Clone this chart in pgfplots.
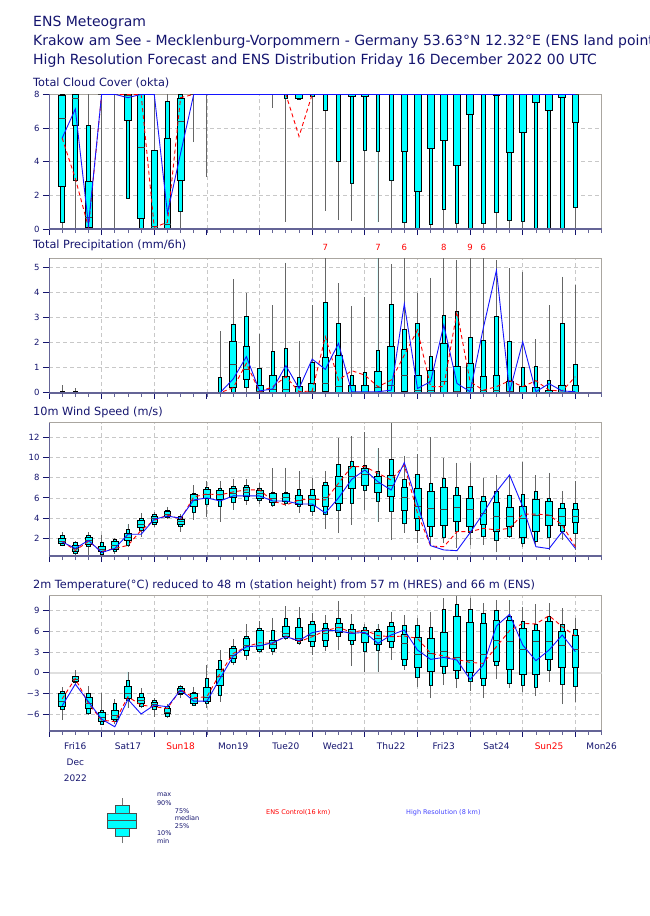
\documentclass[border=0pt]{standalone}
\usepackage{pgfplots}
\pgfplotsset{compat=1.18}
\usepackage{pgfplotstable}
\usepgfplotslibrary{statistics}
\usepackage{fontspec}
\setmainfont{DejaVu Sans}

\definecolor{navytext}{RGB}{20,20,110}
\definecolor{axisblue}{RGB}{100,100,150}
\definecolor{framegray}{RGB}{170,166,160}
\definecolor{gridgray}{RGB}{200,200,200}
\definecolor{enscyan}{RGB}{0,255,255}
\definecolor{ctrlred}{RGB}{255,0,0}
\definecolor{hresblue}{RGB}{20,20,255}

% columns: step (h), min, 10%, 25%, median, 75%, 90%, max, ENS control, HRES
\pgfplotstableread{
x mn pa pb md pf pg mx ct hr
6 0 0.4 2.55 6.57 7.92 8 8 5.4 5.4
12 0 2.87 6.18 7.74 8 8 8 3.0 7.13
18 0 0.05 0.08 0.67 2.81 6.14 8 0.1 0.24
24 0 8 8 8 8 8 8 8 8
30 0 8 8 8 8 8 8 8 8
36 1.8 1.82 6.44 7.95 8 8 8 8 7.8
42 0 0 0.63 4.83 8 8 8 8 8
48 0 0 0.02 0.15 4.65 4.7 8 0.1 8
54 0 0 0.05 0.3 5.39 7.6 8 0.4 0.93
60 0 1.03 2.87 6.4 7.76 8 8 7.8 4.5
66 5.15 8 8 8 8 8 8 8 8
72 3.1 8 8 8 8 8 8 8 8
78 8 8 8 8 8 8 8 8 8
84 8 8 8 8 8 8 8 8 8
90 8 8 8 8 8 8 8 8 8
96 8 8 8 8 8 8 8 8 8
102 7.2 8 8 8 8 8 8 8 8
108 0.44 7.75 8 8 8 8 8 8 8
114 7.7 7.7 7.75 8 8 8 8 5.5 8
120 0 7.85 8 8 8 8 8 8 8
126 1.09 7.07 8 8 8 8 8 8 8
132 0.53 4.04 8 8 8 8 8 8 8
138 0.48 2.71 7.9 8 8 8 8 8 8
144 0 4.69 7.88 8 8 8 8 8 8
150 0.4 4.6 8 8 8 8 8 8 8
156 0 2.87 8 8 8 8 8 8 8
162 0 0.38 4.63 8 8 8 8 8 8
168 0 0 2.26 8 8 8 8 8 8
174 0 0.3 4.79 8 8 8 8 8 8
180 0 1.19 5.25 8 8 8 8 8 8
186 0 0.34 3.78 8 8 8 8 8 8
192 0 0 6.81 8 8 8 8 8 8
198 0 0.34 7.98 8 8 8 8 8 8
204 0 1.0 7.95 8 8 8 8 8 8
210 0 0.5 4.57 8 8 8 8 8 8
216 0 0.44 5.74 8 8 8 8 8 8
222 0 0 7.52 8 8 8 8 8 8
228 0 0 7.03 8 8 8 8 8 8
234 0 0 7.82 8 8 8 8 8 8
240 0 1.27 6.34 8 8 8 8 8 8
}\cloud

\pgfplotstableread{
x mn pa pb md pf pg mx ct hr
6 0 0 0 0 0.02 0.05 0.3 0 0
12 0 0 0 0 0.02 0.05 0.17 0 0
18 0 0 0 0 0 0 0 0 0
24 0 0 0 0 0 0 0 0 0
30 0 0 0 0 0 0 0 0 0
36 0 0 0 0 0 0 0 0 0
42 0 0 0 0 0 0 0 0 0
48 0 0 0 0 0 0 0 0 0
54 0 0 0 0 0 0 0 0 0
60 0 0 0 0 0 0 0 0 0
66 0 0 0 0 0 0 0 0 0
72 0 0 0 0 0 0 0 0 0
78 0 0 0 0 0.02 0.61 2.46 0 0
84 0 0.02 0.2 1.14 2.03 2.73 4.52 0.2 0.55
90 0 0.2 0.55 0.95 1.86 3.06 3.96 1.17 1.44
96 0 0 0 0.05 0.28 0.97 2.35 0.04 0.07
102 0 0 0 0.15 0.69 1.65 3.48 0.24 0.15
108 0 0 0 0.15 0.64 1.77 5.19 0.64 1.08
114 0 0 0 0.03 0.24 0.6 2.06 0.04 0.17
120 0 0 0 0.05 0.37 1.2 3.5 0.07 1.34
126 0 0 0.05 0.39 1.4 3.6 7 2.23 0.93
132 0 0 0.03 0.27 1.5 2.77 4.36 0.5 1.97
138 0 0 0 0.02 0.28 0.7 3.46 0.88 0.04
144 0 0 0 0.02 0.28 0.81 3.82 0.7 0.04
150 0 0 0.02 0.2 0.86 1.69 7 0.24 0.04
156 0 0 0.03 0.3 1.86 3.52 5.12 0.5 0.1
162 0 0.02 0.05 0.68 1.73 2.53 6 1.5 3.54
168 0 0 0 0.1 0.68 2.77 3.96 2.5 0.17
174 0 0 0 0.1 0.89 1.46 4.59 0.24 0.44
180 0 0 0.03 0.44 1.95 3.1 8 0.24 2.7
186 0 0 0 0.05 1.04 3.26 5.3 3.23 0.37
192 0 0 0 0.2 1.17 2.19 9 0.44 0.04
198 0 0 0 0.1 0.66 2.09 6 0.1 2.57
204 0 0 0.02 0.1 0.69 3.06 5.29 0.24 4.88
210 0 0 0 0.05 0.44 2.03 4.96 0.48 0.04
216 0 0 0 0.03 0.24 1.0 4.8 0.24 2.03
222 0 0 0 0.03 0.2 1.04 2.13 0.48 0.04
228 0 0 0 0.02 0.1 0.49 3.48 0.1 0.36
234 0 0 0 0.03 0.28 2.77 4.63 0.07 0.07
240 0 0 0 0.03 0.28 1.13 4.3 0.64 0.04
}\precip

\pgfplotstableread{
x mn pa pb md pf pg mx ct hr
6 1.2 1.35 1.5 1.75 2.0 2.3 2.6 1.7 1.65
12 0.35 0.5 0.68 1.0 1.34 1.57 1.74 0.8 1.0
18 0.18 1.17 1.44 1.83 2.1 2.33 2.6 1.7 1.8
24 0.25 0.45 0.68 0.95 1.24 1.57 2.33 0.7 0.6
30 0.45 0.68 0.94 1.34 1.67 1.9 2.0 1.0 1.0
36 1.17 1.3 1.77 2.1 2.5 2.9 3.39 1.3 2.4
42 2.16 2.76 3.09 3.42 3.75 3.98 4.48 2.8 2.4
48 3.16 3.42 3.55 3.98 4.2 4.4 4.64 3.8 3.9
54 3.91 4.08 4.2 4.4 4.64 4.8 5.13 4.3 4.2
60 2.66 3.22 3.42 3.72 3.91 4.15 4.4 3.9 4.0
66 3.82 4.57 5.2 5.8 6.36 6.5 7.28 6.1 5.8
72 4.15 5.4 5.96 6.36 6.88 7.05 7.68 6.4 6.0
78 3.65 5.2 5.86 6.36 6.8 6.95 7.68 6.3 5.7
84 4.8 5.53 6.06 6.5 6.95 7.1 7.84 6.6 6.2
90 5.3 5.8 6.13 6.6 7.05 7.2 7.84 6.8 6.2
96 5.4 5.73 6.0 6.46 6.8 6.95 7.5 6.8 6.2
102 5.13 5.3 5.53 5.96 6.46 6.6 8.93 5.7 5.7
108 5.2 5.47 5.7 6.06 6.46 6.6 9.0 5.3 5.7
114 4.48 5.2 5.37 5.8 6.3 6.85 8.67 5.8 5.4
120 4.2 4.64 5.3 5.86 6.3 6.85 7.94 5.9 5.4
126 2.9 4.4 5.2 6.06 7.28 7.5 8.67 5.8 4.5
132 2.5 4.8 5.47 7.2 8.17 9.33 11.9 7.45 6.0
138 3.3 5.47 6.95 8.1 9.16 9.6 12.1 9.1 7.84
144 4.8 6.72 7.28 8.37 8.93 9.26 12.5 9.1 8.77
150 3.65 5.63 6.52 7.45 8.17 8.6 10.9 8.44 7.6
156 1.83 4.7 6.13 7.28 8.27 9.82 13.45 7.78 6.78
162 2.56 3.49 4.8 6.06 7.02 7.84 10.2 9.26 9.5
168 1.57 2.83 3.98 5.13 6.95 8.34 10.4 4.5 5.4
174 1.24 2.16 3.16 4.97 6.62 7.45 12.0 1.24 1.27
180 1.5 2.1 3.32 4.87 7.02 7.94 9.92 1.17 0.85
186 1.08 2.66 3.65 5.07 6.22 7.05 9.49 2.66 0.78
192 1.34 2.56 3.22 4.87 5.96 7.1 9.49 2.66 2.56
198 1.34 2.16 3.39 4.48 5.63 6.19 7.94 2.99 4.48
204 0.61 1.83 2.73 4.2 5.56 6.62 8.27 2.83 6.62
210 2.0 2.23 3.22 4.2 5.07 6.29 8.17 2.99 8.27
216 1.17 1.5 2.07 3.98 5.13 6.36 9.52 4.4 5.13
222 1.34 1.74 2.73 4.31 5.89 6.62 8.27 4.4 1.17
228 0.85 2.07 3.32 4.31 5.63 5.96 8.5 4.31 0.98
234 1.83 2.66 3.25 4.15 4.97 5.47 6.69 3.32 2.66
240 0.85 2.5 3.58 4.2 4.87 5.47 7.68 1.17 1.0
}\wind

\pgfplotstableread{
x mn pa pb md pf pg mx ct hr
6 -6.9 -5.34 -4.95 -4.08 -3.0 -2.77 -2.14 -3.8 -4.8
12 -1.8 -1.41 -1.31 -0.92 -0.58 -0.49 0.39 -0.83 -1.65
18 -6.17 -5.92 -5.19 -4.37 -3.64 -3.0 -1.9 -4.47 -4.22
24 -7.62 -7.48 -7.14 -6.41 -5.83 -5.53 -3.0 -6.9 -6.75
30 -7.48 -7.14 -6.8 -6.17 -5.44 -4.47 -3.88 -7.1 -7.86
36 -5.19 -4.08 -3.74 -3.0 -2.04 -1.17 0.15 -3.5 -3.88
42 -5.19 -4.85 -4.47 -3.98 -3.64 -3.0 -2.28 -4.7 -6.0
48 -6.4 -5.34 -4.95 -4.56 -4.32 -3.98 -3.74 -4.95 -4.7
54 -6.65 -6.4 -5.92 -5.68 -5.19 -4.95 -4.56 -5.19 -4.95
60 -3.74 -3.16 -3.0 -2.62 -2.28 -2.04 -1.8 -2.43 -2.52
66 -4.85 -4.7 -4.47 -3.64 -3.0 -2.91 -2.04 -3.64 -4.13
72 -5.19 -4.47 -4.22 -3.5 -2.14 -0.83 1.12 -3.5 -4.13
78 -4.22 -3.25 -1.8 -0.58 0.49 1.84 3.3 -0.1 -0.83
84 1.12 1.46 2.09 2.57 3.54 3.79 4.85 2.8 2.43
90 1.84 2.57 3.3 4.03 5.0 5.34 7.04 3.79 3.79
96 2.8 3.06 3.4 4.03 6.21 6.46 7.52 4.37 3.9
102 2.57 3.16 3.54 4.17 4.76 6.12 8.0 4.27 4.37
108 4.76 5.0 5.24 5.73 6.8 7.91 9.7 5.34 5.24
114 4.03 4.27 4.76 5.0 6.6 7.91 9.5 4.51 4.66
120 2.57 3.9 4.51 5.49 7.04 7.43 8.74 5.24 5.83
126 3.16 3.9 4.76 5.73 6.46 7.18 8.4 6.12 6.21
132 3.3 5.34 5.87 6.6 7.18 7.91 10.5 6.6 6.07
138 0.97 4.17 4.76 5.73 6.36 7.04 8.54 5.87 5.73
144 0.15 3.16 4.42 5.73 6.21 6.6 7.04 6.21 5.87
150 0.15 3.3 4.17 5.0 6.07 6.31 7.09 5.39 4.27
156 1.84 3.69 4.51 5.97 6.7 7.28 8.88 5.24 5.49
162 0.39 1.12 1.94 4.27 5.63 6.94 8.4 5.34 6.21
168 -2.14 -0.68 0.73 2.67 5.1 6.84 7.91 5.0 3.3
174 -3.74 -1.8 0.15 2.82 5.0 6.6 8.88 2.82 1.94
180 -1.8 -0.1 0.97 3.16 5.87 9.22 10.8 2.43 2.23
186 -2.28 -0.83 0.39 2.23 8.16 9.95 11.2 1.94 1.84
192 -2.62 -1.31 0.05 1.84 7.33 9.22 10.8 1.5 -0.97
198 -3.74 -1.8 -0.83 2.67 7.18 8.64 10.1 1.36 1.12
204 -0.97 1.02 1.6 4.66 7.67 9.13 10.6 3.79 6.8
210 -2.28 -1.55 0.53 4.51 7.67 8.25 10.6 6.12 8.5
216 -2.86 -1.8 -0.19 3.45 6.46 7.43 9.6 7.18 4.03
222 -3.4 -2.14 -0.19 4.61 6.21 7.09 9.95 7.09 1.75
228 -1.31 0.29 1.94 4.61 7.43 8.16 10.1 8.3 3.3
234 -4.61 -1.65 0.73 4.03 5.97 7.09 9.37 6.7 5.49
240 -4.22 -2.04 0.78 3.4 5.39 6.36 7.91 5.34 3.06
}\temp

\pgfplotsset{
  narrowbox/.style={draw=black, fill=enscyan, line width=0.7pt,
    boxplot/draw direction=y,
    boxplot/box extend=1.6, boxplot/whisker extend=0,
    boxplot/every whisker/.style={draw=black!60, line width=0.9pt},
    boxplot/every median/.style={draw=none}},
  widebox/.style={draw=black, fill=enscyan, line width=0.7pt,
    boxplot/draw direction=y,
    boxplot/box extend=3.1, boxplot/whisker extend=0,
    boxplot/every whisker/.style={draw=none},
    boxplot/every median/.style={draw=black!75, line width=0.5pt}},
  meteo/.style={
    scale only axis, width=552.7pt, anchor=south west,
    xmin=0, xmax=252,
    xtick={0,24,...,240}, minor xtick={6,12,...,252}, xticklabels={},
    xtick pos=bottom, ytick pos=left, tick align=outside,
    major tick length=6pt, minor tick length=4pt,
    major tick style={navytext, line width=0.9pt},
    minor tick style={axisblue, line width=0.8pt},
    xmajorgrids, ymajorgrids,
    major grid style={gridgray, dash pattern=on 4pt off 3pt, line width=0.8pt},
    axis line style={framegray, line width=0.8pt},
    yticklabel style={font=\fontsize{8.5}{10}\selectfont, text=navytext},
    after end axis/.code={
      \draw[axisblue, line width=0.8pt] (rel axis cs:0,0) -- (rel axis cs:0,1);
      \draw[axisblue, line width=1.6pt] (rel axis cs:0,0) -- (rel axis cs:1,0);
    },
  },
  ctrl/.style={ctrlred, line width=0.9pt, dash pattern=on 4pt off 3pt},
  hres/.style={hresblue, line width=0.9pt},
}

% two boxes per step: 10-90 narrow (with min/max whiskers), 25-75 wide with median
\newcommand\ensboxes[1]{%
  \pgfplotsinvokeforeach{0,...,39}{%
    \pgfplotstablegetelem{##1}{x}\of{#1}\edef\bx{\pgfplotsretval}%
    \pgfplotstablegetelem{##1}{mn}\of{#1}\edef\bmn{\pgfplotsretval}%
    \pgfplotstablegetelem{##1}{pa}\of{#1}\edef\bpa{\pgfplotsretval}%
    \pgfplotstablegetelem{##1}{pb}\of{#1}\edef\bpb{\pgfplotsretval}%
    \pgfplotstablegetelem{##1}{md}\of{#1}\edef\bmd{\pgfplotsretval}%
    \pgfplotstablegetelem{##1}{pf}\of{#1}\edef\bpf{\pgfplotsretval}%
    \pgfplotstablegetelem{##1}{pg}\of{#1}\edef\bpg{\pgfplotsretval}%
    \pgfplotstablegetelem{##1}{mx}\of{#1}\edef\bmx{\pgfplotsretval}%
    \edef\ensnext{%
      \noexpand\addplot[narrowbox, boxplot prepared={draw position=\bx,
        lower whisker=\bmn, lower quartile=\bpa, median=\bpa,
        upper quartile=\bpg, upper whisker=\bmx}] coordinates {};
      \noexpand\addplot[widebox, boxplot prepared={draw position=\bx,
        lower whisker=\bpb, lower quartile=\bpb, median=\bmd,
        upper quartile=\bpf, upper whisker=\bpf}] coordinates {};
    }\ensnext
  }%
}

\begin{document}
\begin{tikzpicture}[x=1pt,y=1pt]
\useasboundingbox (0,-916) rectangle (650,0);

\begin{scope}[every node/.style={anchor=base west, inner sep=0pt, text=navytext}]
\node[font=\fontsize{14}{16}\selectfont] at (33,-26) {ENS Meteogram};
\node[font=\fontsize{14}{16}\selectfont] at (33,-45) {Krakow am See - Mecklenburg-Vorpommern - Germany 53.63°N 12.32°E (ENS land point)};
\node[font=\fontsize{14}{16}\selectfont] at (33,-64) {High Resolution Forecast and ENS Distribution Friday 16 December 2022 00 UTC};
\node[font=\fontsize{11.3}{13}\selectfont] at (33,-86) {Total Cloud Cover (okta)};
\node[font=\fontsize{11.3}{13}\selectfont] at (33,-248.3) {Total Precipitation (mm/6h)};
\node[font=\fontsize{11.3}{13}\selectfont] at (33,-415) {10m Wind Speed (m/s)};
\node[font=\fontsize{11.3}{13}\selectfont] at (33,-588.3) {2m Temperature(°C) reduced to 48 m (station height) from 57 m (HRES) and 66 m (ENS)};
\end{scope}

% cloud cover
\begin{axis}[meteo, at={(49pt,-229pt)}, height=134.7pt, ymin=0, ymax=8,
  ytick={0,2,4,6,8}, yticklabels={0,2,4,6,8}]
\ensboxes{\cloud}
\addplot[ctrl] table[x=x,y=ct]{\cloud};
\addplot[hres] table[x=x,y=hr]{\cloud};
\end{axis}

% precipitation
\begin{axis}[meteo, at={(49pt,-392.7pt)}, height=134.4pt, ymin=0, ymax=5.36,
  ytick={0,1,2,3,4,5}, yticklabels={0,1,2,3,4,5}]
\ensboxes{\precip}
\addplot[ctrl] table[x=x,y=ct]{\precip};
\addplot[hres] table[x=x,y=hr]{\precip};
\end{axis}
\begin{axis}[at={(49pt,-392.7pt)}, anchor=south west, scale only axis,
  width=552.7pt, height=134.4pt, xmin=0, xmax=252, ymin=0, ymax=5.36,
  hide axis, clip=false]
\addplot[draw=none, nodes near coords, point meta=explicit symbolic,
  every node near coord/.append style={text=ctrlred, anchor=center,
    yshift=10.6pt, font=\fontsize{8.5}{10}\selectfont}]
  coordinates {(126,5.36)[7] (150,5.36)[7] (162,5.36)[6] (180,5.36)[8] (192,5.36)[9] (198,5.36)[6]};
\end{axis}

% wind
\begin{axis}[meteo, at={(49pt,-556pt)}, height=133.3pt, ymin=0.25, ymax=13.45,
  ytick={2,4,...,12}, yticklabels={2,4,6,8,10,12}]
\ensboxes{\wind}
\addplot[ctrl] table[x=x,y=ct]{\wind};
\addplot[hres] table[x=x,y=hr]{\wind};
\end{axis}

% temperature
\begin{axis}[meteo, at={(49pt,-730.7pt)}, height=135pt, ymin=-8.43, ymax=11.2,
  ytick={-6,-3,...,9}, yticklabels={−6,−3,0,3,6,9},
  extra x ticks={12,36,...,252},
  extra x tick labels={{Fri16\\Dec\\2022},Sat17,{\textcolor{ctrlred}{Sun18}},Mon19,Tue20,Wed21,Thu22,Fri23,Sat24,{\textcolor{ctrlred}{Sun25}},Mon26},
  extra x tick style={major tick length=0pt, tick style={draw=none}, grid=none,
    xticklabel style={align=center, anchor=north, inner sep=0pt, yshift=-12pt,
      font=\fontsize{9}{16}\selectfont, text=navytext}}]
\addplot[gray!25, line width=2pt] coordinates {(0,0) (252,0)};
\ensboxes{\temp}
\addplot[ctrl] table[x=x,y=ct]{\temp};
\addplot[hres] table[x=x,y=hr]{\temp};
\end{axis}

% legend box
\begin{axis}[at={(92pt,-850pt)}, anchor=south west, scale only axis,
  width=60pt, height=60pt, xmin=0, xmax=60, ymin=0, ymax=60, hide axis, clip=false]
\addplot[draw=black!70, fill=enscyan, line width=0.7pt, boxplot/draw direction=y,
  boxplot/whisker extend=0,
  boxplot/every whisker/.style={draw=black!55, line width=0.9pt},
  boxplot/every median/.style={draw=none},
  boxplot prepared={draw position=30, box extend=14.3, lower whisker=6.7,
    lower quartile=14, median=14, upper quartile=45, upper whisker=51.7}] coordinates {};
\addplot[draw=black!70, fill=enscyan, line width=0.7pt, boxplot/draw direction=y,
  boxplot/whisker extend=0,
  boxplot/every whisker/.style={draw=none},
  boxplot/every median/.style={draw=black!70, line width=0.6pt},
  boxplot prepared={draw position=30, box extend=28.5, lower whisker=21.3,
    lower quartile=21.3, median=29.7, upper quartile=36.7, upper whisker=36.7}] coordinates {};
\end{axis}

\begin{scope}[every node/.style={anchor=west, inner sep=0pt, text=navytext,
    font=\fontsize{6.5}{7}\selectfont}]
\node at (156.8,-795) {max};
\node at (156.8,-802.7) {90\%};
\node at (174.7,-810.7) {75\%};
\node at (174.7,-817.7) {median};
\node at (174.7,-825.7) {25\%};
\node at (156.8,-833.3) {10\%};
\node at (156.8,-840.7) {min};
\node[text=ctrlred] at (266,-812.7) {ENS Control(16 km)};
\node[text=hresblue!80] at (406,-812.7) {High Resolution (8 km)};
\end{scope}
\end{tikzpicture}
\end{document}
